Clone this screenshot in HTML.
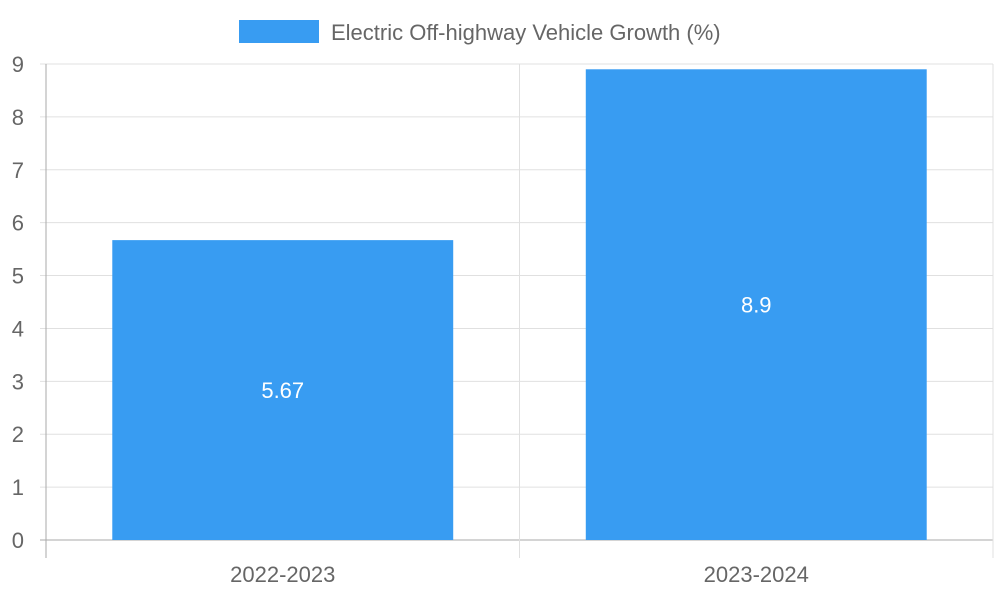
<!DOCTYPE html>
<html><head><meta charset="utf-8"><style>
body{margin:0;background:#fff;font-family:"Liberation Sans",sans-serif}
svg text{font-family:"Liberation Sans",sans-serif}
</style></head><body>
<svg id="chart" width="1000" height="600" xmlns="http://www.w3.org/2000/svg">
<g>
<rect x="239" y="20" width="80" height="23" fill="#389cf2"/>
<text x="331" y="40" font-size="22" fill="#666">Electric Off-highway Vehicle Growth (%)</text>
</g>
<g id="grid"></g>
<g id="bars"></g>
<g id="axes"></g>
</svg>
<script>
const categories = ["2022-2023", "2023-2024"];
const values = [5.67, 8.9];
const yTicks = [0,1,2,3,4,5,6,7,8,9];
const NS="http://www.w3.org/2000/svg";
const L=46,R=993,T=64,B=540,yMax=9;
const y=v=>B-(v/yMax)*(B-T);
const bw=(R-L)/categories.length;
const x=i=>L+bw*i;
function mk(tag,attrs,parent){const e=document.createElementNS(NS,tag);for(const k in attrs)e.setAttribute(k,attrs[k]);parent.appendChild(e);return e;}
const grid=document.getElementById('grid'),bars=document.getElementById('bars'),axes=document.getElementById('axes');
yTicks.forEach(t=>{
  const ln=mk('line',{x1:40,x2:R,y1:y(t),y2:y(t),stroke:t===0?'#aaa':'#e0e0e0','stroke-width':1},grid);
  
  
  const tx=mk('text',{x:24,y:y(t)+8,'font-size':22,fill:'#666','text-anchor':'end'},axes);
  
  
  tx.textContent=t;
});
for(let i=0;i<=categories.length;i++){
  const ln=mk('line',{x1:x(i),x2:x(i),y1:T,y2:558,stroke:i===0?'#aaa':'#e0e0e0','stroke-width':1},grid);
  
  
}
categories.forEach((c,i)=>{
  const w=bw*0.72,cx=x(i)+bw/2;
  const r=mk('rect',{x:cx-w/2,y:y(values[i]),width:w,height:B-y(values[i]),fill:'#389cf2'},bars);
  
  
  const v=mk('text',{x:cx,y:(y(values[i])+B)/2+8,'font-size':22,fill:'#fff','text-anchor':'middle'},bars);
  
  
  v.textContent=values[i];
  const t=mk('text',{x:cx,y:582,'font-size':22,fill:'#666','text-anchor':'middle'},axes);
  
  
  t.textContent=c;
});
</script>
</body></html>
